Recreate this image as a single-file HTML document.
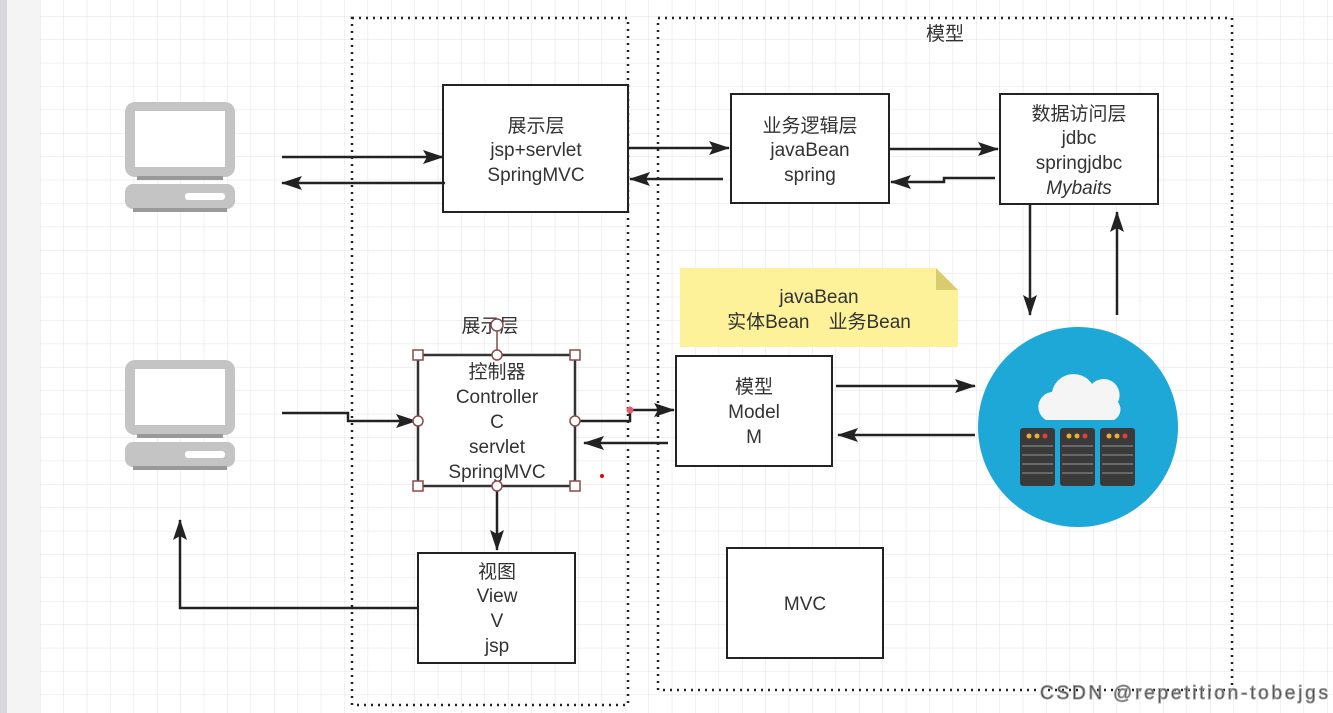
<!DOCTYPE html>
<html><head><meta charset="utf-8"><style>
html,body{margin:0;padding:0;background:#fff}
svg{display:block}
text{font-family:"Liberation Sans","Noto Sans CJK SC",sans-serif;fill:#333;font-size:19px;text-anchor:middle}
</style></head><body>
<svg width="1333" height="713" viewBox="0 0 1333 713" xmlns="http://www.w3.org/2000/svg">
<defs>
<pattern id="g" x="40" y="16" width="23.4" height="23.4" patternUnits="userSpaceOnUse">
<path d="M0 0H23.4M0 0V23.4" stroke="#e2e2e2" stroke-width="1" fill="none"/>
</pattern>
<marker id="b" markerWidth="22" markerHeight="14" refX="20" refY="7" orient="auto" markerUnits="userSpaceOnUse">
<path d="M0 0L21 7L0 14L4 7Z" fill="#222"/></marker>
</defs>
<rect width="1333" height="713" fill="#fff"/>
<rect x="0" y="0" width="7" height="713" fill="#d8d8dc"/>
<rect x="7" y="0" width="33" height="713" fill="#f4f4f4"/>
<rect x="40" y="0" width="1293" height="713" fill="url(#g)"/>
<rect x="352" y="18" width="276" height="687" fill="none" stroke="#222" stroke-width="2.5" stroke-dasharray="2 5"/>
<rect x="658" y="18" width="574" height="672" fill="none" stroke="#222" stroke-width="2.5" stroke-dasharray="2 5"/>
<text x="945" y="40" font-size="17">模型</text>
<g fill="#c4c4c4">
<rect x="125" y="102" width="110" height="75" rx="10"/><rect x="135" y="111" width="90" height="56" fill="#fff"/>
<rect x="137" y="176" width="86" height="4" fill="#999"/>
<rect x="125" y="184" width="110" height="25" rx="8"/><rect x="185" y="193" width="40" height="7" rx="3" fill="#fff"/>
<rect x="133" y="208" width="94" height="4" fill="#999"/>
<rect x="125" y="360" width="110" height="75" rx="10"/><rect x="135" y="369" width="90" height="56" fill="#fff"/>
<rect x="137" y="434" width="86" height="4" fill="#999"/>
<rect x="125" y="442" width="110" height="25" rx="8"/><rect x="185" y="451" width="40" height="7" rx="3" fill="#fff"/>
<rect x="133" y="466" width="94" height="4" fill="#999"/>
</g>
<g fill="#fff" stroke="#222" stroke-width="2">
<rect x="443" y="85" width="185" height="127"/>
<rect x="731" y="94" width="158" height="109"/>
<rect x="1000" y="94" width="158" height="110"/>
<rect x="676" y="356" width="156" height="110"/>
<rect x="418" y="553" width="157" height="110"/>
<rect x="727" y="548" width="156" height="110"/>
</g>
<rect x="418" y="355" width="157" height="131" fill="#fff" stroke="#333" stroke-width="2.5"/>
<text x="536" y="132">展示层</text><text x="536" y="156">jsp+servlet</text><text x="536" y="181">SpringMVC</text>
<text x="810" y="132">业务逻辑层</text><text x="810" y="156">javaBean</text><text x="810" y="181">spring</text>
<text x="1079" y="120">数据访问层</text><text x="1079" y="144">jdbc</text><text x="1079" y="169">springjdbc</text><text x="1079" y="194" font-style="italic">Mybaits</text>
<text x="497" y="378">控制器</text><text x="497" y="403">Controller</text><text x="497" y="428">C</text><text x="497" y="453">servlet</text><text x="497" y="478">SpringMVC</text>
<text x="754" y="393">模型</text><text x="754" y="418">Model</text><text x="754" y="443">M</text>
<text x="497" y="578">视图</text><text x="497" y="602">View</text><text x="497" y="627">V</text><text x="497" y="652">jsp</text>
<text x="805" y="610">MVC</text>
<text x="490" y="332" font-size="17" fill="#555">展示层</text>
<path d="M680 268H936L958 290V347H680Z" fill="#fdf19a"/>
<path d="M936 268V290H958Z" fill="#d8cc6c"/>
<text x="819" y="303">javaBean</text><text x="819" y="328">实体Bean　业务Bean</text>
<circle cx="1078" cy="427" r="100" fill="#1ea8d8"/>
<path d="M1046 420a15 15 0 0 1 6-28a22 22 0 0 1 40-8a16 16 0 0 1 26 18a12 12 0 0 1-4 18Z" fill="#f5f5f5"/>
<g fill="#3a3a3a">
<rect x="1020" y="428" width="35" height="58" rx="3"/><rect x="1060" y="428" width="35" height="58" rx="3"/><rect x="1100" y="428" width="35" height="58" rx="3"/>
</g>
<g stroke="#777" stroke-width="1.5">
<path d="M1022 446H1053M1022 455H1053M1022 464H1053M1022 473H1053M1062 446H1093M1062 455H1093M1062 464H1093M1062 473H1093M1102 446H1133M1102 455H1133M1102 464H1133M1102 473H1133"/>
</g>
<g fill="#e8b030"><circle cx="1029" cy="436" r="2.5"/><circle cx="1069" cy="436" r="2.5"/><circle cx="1109" cy="436" r="2.5"/>
<circle cx="1037" cy="436" r="2.5"/><circle cx="1077" cy="436" r="2.5"/><circle cx="1117" cy="436" r="2.5"/></g>
<g fill="#e04040"><circle cx="1045" cy="436" r="2.5"/><circle cx="1085" cy="436" r="2.5"/><circle cx="1125" cy="436" r="2.5"/></g>
<g stroke="#222" stroke-width="2.5" fill="none" marker-end="url(#b)">
<path d="M282 157H443"/>
<path d="M445 183H282"/>
<path d="M628 148H729"/>
<path d="M723 179H630"/>
<path d="M889 149H998"/>
<path d="M995 178H944V182H891"/>
<path d="M1030 205V315"/>
<path d="M1117 315V212"/>
<path d="M836 386H975"/>
<path d="M975 435H838"/>
<path d="M282 413H348V421H416"/>
<path d="M576 421H630V410H674"/>
<path d="M668 443H584"/>
<path d="M497 487V550"/>
<path d="M418 608H180V520"/>
</g>
<circle cx="630" cy="410" r="3.5" fill="#e06070"/>
<circle cx="602" cy="476" r="2" fill="#e00"/>
<g fill="#fff" stroke="#8a4a4a" stroke-width="1.5">
<line x1="497" y1="325" x2="497" y2="355"/>
<rect x="413" y="350" width="10" height="10"/><rect x="570" y="350" width="10" height="10"/>
<rect x="413" y="481" width="10" height="10"/><rect x="570" y="481" width="10" height="10"/>
<circle cx="497" cy="355" r="5"/><circle cx="497" cy="486" r="5"/>
<circle cx="418" cy="421" r="5"/><circle cx="575" cy="421" r="5"/>
<circle cx="497" cy="325" r="6"/>
</g>
<text x="1184" y="699" font-size="25" fill="#fff" stroke="#999" stroke-width="1" text-anchor="middle" textLength="288">CSDN @repetition-tobejgs</text>
</svg>
</body></html>
